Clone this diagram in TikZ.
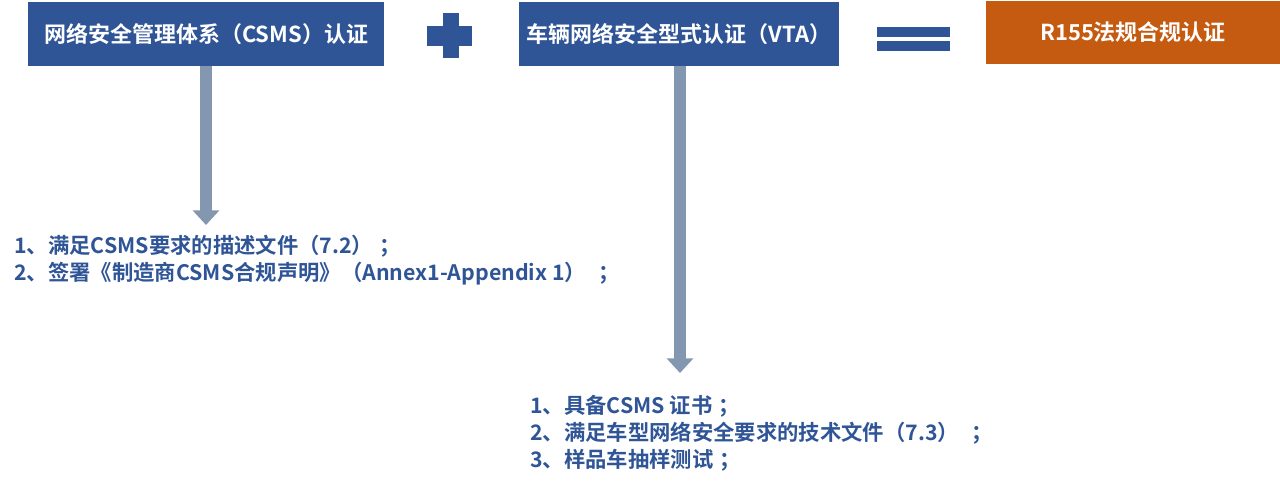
\documentclass[tikz,border=0pt]{standalone}
\usepackage{fontspec}
\usetikzlibrary{arrows.meta}
\setmainfont{Noto Sans CJK SC}[BoldFont={* Bold}]
\newfontfamily\cjkb{Noto Sans CJK SC Bold}
\newcommand{\semi}{\hspace{0.3em}；}
\definecolor{dblue}{HTML}{2F5597}
\definecolor{lblue}{HTML}{8497B0}
\definecolor{orng}{HTML}{C55A11}
\begin{document}
\begin{tikzpicture}[x=0.75pt,y=-0.75pt,
  box/.style={fill=#1,draw=none,inner sep=0pt,text=white,font=\cjkb\fontsize{16.5}{19}\selectfont},
  arr/.style={line width=9pt,draw=lblue,-{Triangle[width=19.5pt,length=11pt]}},
  item/.style={anchor=west,text=dblue,inner sep=0pt,align=left,font=\cjkb\fontsize{16}{20.25}\selectfont}]
\useasboundingbox (0,0) rectangle (1280,484);
\node[box=dblue,minimum width=267pt,minimum height=48pt] (csms) at (206,34) {网络安全管理体系（CSMS）认证};
\node[box=dblue,minimum width=240pt,minimum height=48pt] (vta) at (679,34) {车辆网络安全型式认证（VTA）};
\node[box=orng,minimum width=220.5pt,minimum height=47.25pt] (r155) at (1133,32.5) {R155法规合规认证};
% plus
\fill[dblue] (427,26) rectangle (472,46);
\fill[dblue] (443,13) rectangle (459,58);
% equals
\fill[dblue] (877,27) rectangle (950,37);
\fill[dblue] (877,41) rectangle (950,51);
\coordinate (t1) at (206,225);
\coordinate (t2) at (680,373);
\draw[arr] (csms.south) -- (t1);
\draw[arr] (vta.south -| t2) -- (t2);
\node[item] (l1) at (14,260) {1、满足CSMS要求的描述文件（7.2）\semi\\2、签署《制造商CSMS合规声明》（Annex1-Appendix 1）\hspace{0.6em}；};
\node[item] (l2) at (530,433) {1、具备CSMS 证书\semi\\2、满足车型网络安全要求的技术文件（7.3）\hspace{0.6em}；\\3、样品车抽样测试\semi};
\end{tikzpicture}
\end{document}
